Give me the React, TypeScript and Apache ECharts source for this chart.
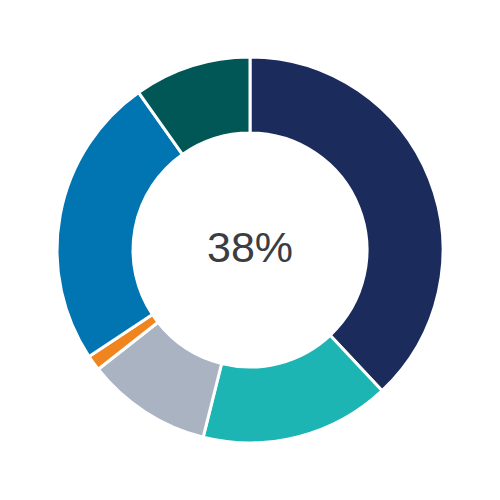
import React, { useEffect, useRef } from 'react';
import * as echarts from 'echarts';

const categories = ['Navy', 'Teal', 'Grey', 'Orange', 'Blue', 'Green'];
const values = [38, 15.9, 10.5, 1.3, 24.5, 9.8];
const colors = ['#1b2b5b', '#1cb5b4', '#a9b3c1', '#f0841f', '#0175b2', '#015656'];
const centerLabel = '38%';

export default function App() {
  const ref = useRef<HTMLDivElement | null>(null);

  useEffect(() => {
    if (!ref.current) return undefined;
    const chart = echarts.init(ref.current, undefined, { renderer: 'svg' });
    chart.setOption({
      animation: false,
      graphic: [
        {
          type: 'text',
          x: 250,
          y: 247,
          style: {
            text: centerLabel,
            align: 'center',
            verticalAlign: 'middle',
            fontFamily: 'Liberation Sans, Arial, sans-serif',
            fontSize: 43,
            fill: '#3a3d44',
          },
        },
      ],
      series: [
        {
          type: 'pie',
          center: [250, 250],
          radius: [117, 193],
          startAngle: 90,
          clockwise: true,
          silent: true,
          label: { show: false },
          labelLine: { show: false },
          itemStyle: { borderColor: '#ffffff', borderWidth: 3 },
          data: categories.map((name, i) => ({
            name,
            value: values[i],
            itemStyle: { color: colors[i] },
          })),
        },
      ],
    });
    return () => {
      chart.dispose();
    };
  }, []);

  return (
    <div
      ref={ref}
      style={{ position: 'fixed', left: 0, top: 0, width: 500, height: 500, background: '#fff' }}
    />
  );
}
